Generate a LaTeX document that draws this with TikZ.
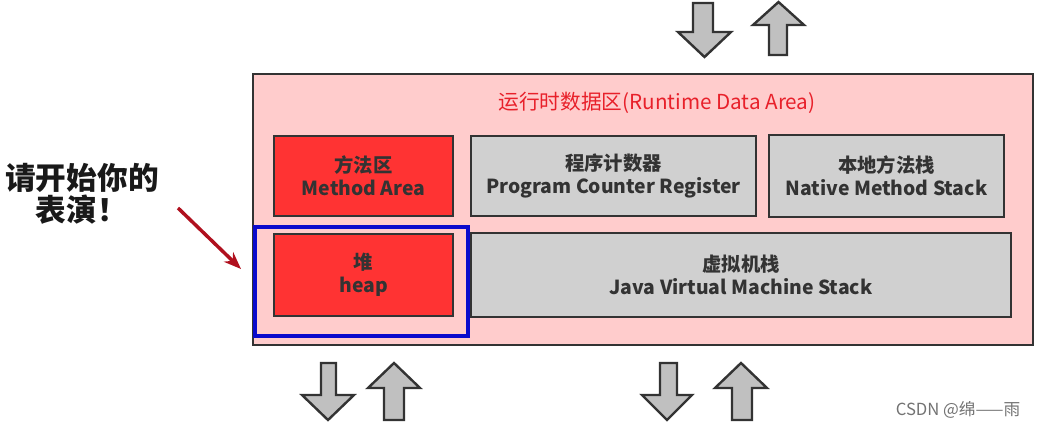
\documentclass[tikz,border=0pt]{standalone}
\usepackage{fontspec}
\setmainfont{Noto Sans CJK SC}
\usetikzlibrary{arrows.meta}
\definecolor{pinkbg}{HTML}{FFCCCC}
\definecolor{redbox}{HTML}{FF3333}
\definecolor{graybox}{HTML}{D0D0D0}
\definecolor{edgec}{HTML}{333333}
\definecolor{titlered}{HTML}{E8202A}
\definecolor{bluec}{HTML}{0A0ACC}
\definecolor{arrowgray}{HTML}{C0C0C0}
\definecolor{darkred}{HTML}{B0101E}
\newcommand\dnarr[7]{% xL xR x1 x2 yt ys yb
  \draw[bigarrow] (#3,#5) -- (#4,#5) -- (#4,#6) -- (#2,#6) -- ({(#1+#2)/2},#7) -- (#1,#6) -- (#3,#6) -- cycle;}
\newcommand\uparr[7]{% xL xR x1 x2 ytip ybase ybot
  \draw[bigarrow] ({(#1+#2)/2},#5) -- (#2,#6) -- (#4,#6) -- (#4,#7) -- (#3,#7) -- (#3,#6) -- (#1,#6) -- cycle;}
\begin{document}
\begin{tikzpicture}[x=0.75pt,y=-0.75pt,
  box/.style={draw=edgec, line width=2.2pt, inner sep=0pt, align=center,
    text=edgec, font=\fontsize{14.5pt}{17.5pt}\selectfont\bfseries},
  redb/.style={box, fill=redbox},
  grayb/.style={box, fill=graybox},
  bigarrow/.style={draw=edgec, fill=arrowgray, line width=1.8pt, line join=miter},
]
\useasboundingbox (0,0) rectangle (1042,428);
\fill[white] (0,0) rectangle (1042,428);

\node[draw=edgec, fill=pinkbg, line width=2.2pt, minimum width=780*0.75pt, minimum height=271*0.75pt] (outer) at (643,209.5) {};
\node[text=titlered, font=\fontsize{15.5pt}{18pt}\selectfont] (title) at (657,103) {运行时数据区(Runtime Data Area)};

\node[redb, minimum width=179*0.75pt, minimum height=80*0.75pt] (method) at (363.5,176) {方法区\\Method Area};
\node[grayb, minimum width=285*0.75pt, minimum height=80*0.75pt] (pc) at (613.5,176) {程序计数器\\Program Counter Register};
\node[grayb, minimum width=235*0.75pt, minimum height=82*0.75pt] (native) at (886.5,176) {本地方法栈\\Native Method Stack};
\node[redb, minimum width=179*0.75pt, minimum height=82*0.75pt] (heap) at (363.5,275) {堆\\heap};
\node[grayb, minimum width=540*0.75pt, minimum height=84*0.75pt] (jvm) at (741,275) {虚拟机栈\\Java Virtual Machine Stack};
\node[draw=bluec, line width=3pt, minimum width=213*0.75pt, minimum height=109*0.75pt] (blue) at (361.5,281.5) {};

\node[align=center, font=\fontsize{23pt}{24pt}\selectfont\bfseries, text=black!90] (say) at (82,194) {请开始你的\\表演！};
\coordinate (as) at (178,208);
\coordinate (ae) at (241,269);
\draw[darkred, line width=2.6pt, -{Stealth[length=13pt,width=10pt]}] (as) -- (ae);

\dnarr{678}{731}{693}{713}{3}{32}{57}
\uparr{753}{804}{769}{787}{2}{25}{55}
\dnarr{302}{354}{321}{336}{363}{395}{420}
\uparr{368}{420}{384}{404}{363}{388}{420}
\dnarr{642}{692}{660}{677}{363}{395}{420}
\uparr{715}{767}{732}{752}{363}{388}{420}

\node[text=black!55, font=\fontsize{12.5pt}{13pt}\selectfont] (wm) at (958,410) {CSDN @绵——雨};
\end{tikzpicture}
\end{document}
